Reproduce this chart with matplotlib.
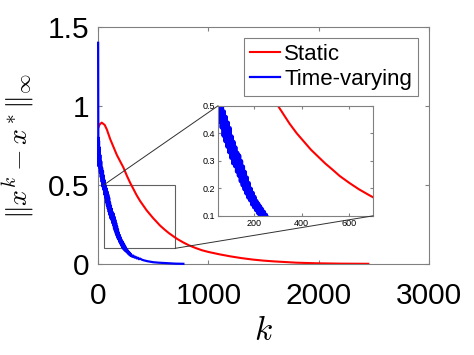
#
# Convergence: static vs time-varying
#
import matplotlib
matplotlib.use("Agg")
import matplotlib.pyplot as plt
from matplotlib.patches import Rectangle, ConnectionPatch

plt.rcParams["font.family"] = ["Liberation Sans", "DejaVu Sans"]
plt.rcParams["mathtext.fontset"] = "cm"

# static (red)
k_static = [0, 15, 33, 60, 80, 110, 140, 170, 200, 230, 260, 290, 320, 350,
            380, 410, 440, 470, 500, 530, 560, 600, 640, 680, 720, 770, 820,
            880, 940, 1000, 1100, 1200, 1300, 1400, 1500, 1600, 1800, 2000,
            2200, 2450]
err_static = [0.86, 0.885, 0.895, 0.88, 0.85, 0.79, 0.74, 0.69, 0.65, 0.61,
              0.56, 0.515, 0.475, 0.435, 0.40, 0.37, 0.34, 0.315, 0.29,
              0.268, 0.245, 0.22, 0.197, 0.177, 0.158, 0.138, 0.12, 0.103,
              0.088, 0.077, 0.062, 0.049, 0.038, 0.029, 0.022, 0.017, 0.009,
              0.005, 0.003, 0.002]

# time-varying (blue), noisy
k_tv = [0, 2, 4, 6, 8, 10, 12, 16, 20, 24, 28, 32, 36, 40, 44, 48, 52, 56,
        60, 64, 68, 72, 76, 80, 84, 88, 92, 96, 100, 104, 108, 112, 116, 120,
        124, 128, 132, 136, 140, 144, 148, 152, 156, 160, 164, 168, 172, 176,
        180, 184, 188, 192, 196, 200, 204, 208, 212, 216, 220, 224, 228, 232,
        236, 240, 244, 248, 252, 256, 260, 264, 268, 272, 276, 280, 284, 288,
        292, 296, 300, 310, 320, 330, 340, 350, 360, 370, 380, 400, 420, 450,
        500, 550, 600, 650, 700, 773]
err_tv = [1.40, 0.62, 0.80, 0.63, 0.78, 0.61, 0.74, 0.58, 0.69, 0.55, 0.65,
          0.52, 0.61, 0.49, 0.59, 0.47, 0.56, 0.44, 0.53, 0.42, 0.50, 0.39,
          0.48, 0.37, 0.46, 0.35, 0.44, 0.33, 0.42, 0.31, 0.39, 0.29, 0.37,
          0.28, 0.35, 0.26, 0.33, 0.245, 0.32, 0.225, 0.30, 0.21, 0.28, 0.195,
          0.26, 0.18, 0.24, 0.165, 0.22, 0.155, 0.20, 0.14, 0.185, 0.13, 0.17,
          0.12, 0.155, 0.11, 0.145, 0.10, 0.135, 0.094, 0.125, 0.088, 0.115,
          0.082, 0.105, 0.078, 0.095, 0.072, 0.088, 0.066, 0.08, 0.061, 0.074,
          0.056, 0.067, 0.052, 0.061, 0.046, 0.054, 0.041, 0.047, 0.036, 0.041,
          0.031, 0.035, 0.027, 0.023, 0.018, 0.012, 0.009, 0.007, 0.005,
          0.003, 0.002]

xticks = [0, 1000, 2000, 3000]
yticks = [0, 0.5, 1, 1.5]
yticklabels = ["0", "0.5", "1", "1.5"]
zoom_x = [50, 700]
zoom_y = [0.1, 0.5]

edge = "#808080"

fig = plt.figure(figsize=(4.74, 3.55), dpi=100)
ax = fig.add_axes([0.207, 0.256, 0.698, 0.668])
ax.plot(k_static, err_static, color="red", lw=1.5, label="Static")
ax.plot(k_tv, err_tv, color="blue", lw=1.6, label="Time-varying",
        clip_on=False, zorder=3)
ax.set_xlim(0, 3000)
ax.set_ylim(0, 1.5)
ax.set_xticks(xticks)
ax.set_yticks(yticks)
ax.set_yticklabels(yticklabels)
ax.tick_params(direction="in", length=3, labelsize=21.5, color=edge,
               top=True, right=True)
ax.tick_params(axis="y", pad=6)
ax.tick_params(axis="x", pad=13)
for s in ax.spines.values():
    s.set_color(edge)
    s.set_linewidth(0.8)
ax.set_xlabel(r"$k$", fontsize=24, labelpad=4)
ax.set_ylabel(r"$\|x^k - x^*\|_\infty$", fontsize=20, labelpad=9)

leg = ax.legend(loc="upper right", fontsize=16, fancybox=False,
                edgecolor=edge, framealpha=1, handlelength=1.35,
                handletextpad=0.2, labelspacing=0.2, borderpad=0.25,
                borderaxespad=0.5)
leg.get_frame().set_linewidth(0.8)

# zoom box
ax.add_patch(Rectangle((zoom_x[0], zoom_y[0]), zoom_x[1] - zoom_x[0],
                       zoom_y[1] - zoom_y[0], fill=False, edgecolor="#606060",
                       lw=0.8))

axin = fig.add_axes([0.46, 0.392, 0.327, 0.31])
axin.plot(k_static, err_static, color="red", lw=1.5)
axin.plot(k_tv, err_tv, color="blue", lw=2.5)
axin.set_xlim(zoom_x)
axin.set_ylim(zoom_y)
axin.set_xticks([200, 400, 600])
axin.set_yticks([0.1, 0.2, 0.3, 0.4, 0.5])
axin.tick_params(direction="in", length=2, labelsize=6.5, color=edge,
                 top=True, right=True, pad=2)
for s in axin.spines.values():
    s.set_color(edge)
    s.set_linewidth(0.8)

for pa, pb in [((zoom_x[0], zoom_y[1]), (0, 1)), ((zoom_x[1], zoom_y[0]), (1, 0))]:
    con = ConnectionPatch(xyA=pa, coordsA=ax.transData, xyB=pb,
                          coordsB=axin.transAxes, color="#303030", lw=0.7)
    fig.add_artist(con)

plt.savefig("out.png", dpi=100)
